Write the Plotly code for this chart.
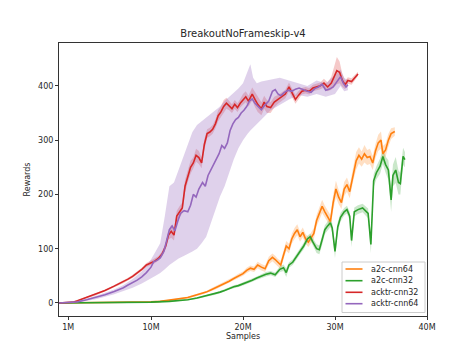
import plotly.graph_objects as go

# ---------------- data (x in millions of samples) ----------------
a2c64_x = [0, 4, 8, 10, 11, 12, 13, 14, 15, 15.5, 16, 16.5, 17, 17.5, 18, 18.5, 19, 19.5, 20, 20.4, 20.8,
           21.2, 21.6, 22, 22.4, 22.8, 23.2, 23.5, 23.8, 24.1, 24.4, 24.7, 25, 25.3, 25.6, 25.9, 26.2, 26.5,
           26.8, 27.1, 27.4, 27.7, 28, 28.3, 28.6, 28.9, 29.2, 29.5, 29.8, 30.1, 30.4, 30.7, 31, 31.3, 31.6,
           32, 32.3, 32.6, 32.9, 33.2, 33.5, 33.8, 34.1, 34.4, 34.7, 35, 35.2, 35.5, 35.8, 36.1, 36.5]
a2c64_y = [0, 0.3, 1, 2, 3, 5, 7, 10, 15, 17, 20, 24, 28, 31, 36, 40, 45, 50, 54, 60, 64,
           62, 70, 66, 63, 78, 84, 80, 74, 70, 88, 105, 100, 118, 128, 135, 122, 130,
           118, 112, 120, 128, 152, 165, 178, 168, 160, 150, 185, 210, 195, 185, 210, 218, 205,
           240, 262, 272, 265, 275, 268, 270, 258, 280, 295, 300, 275, 282, 300, 312, 316]
a2c64_sd = [0, 0.3, 0.5, 1, 1, 1, 1.5, 2, 2, 2, 2, 2.5, 3, 3, 3, 3, 3.5, 4, 4, 5, 5,
            5, 6, 6, 6, 7, 7, 7, 7, 8, 8, 9, 9, 9, 10, 10, 9, 9,
            9, 9, 10, 10, 10, 12, 12, 11, 11, 12, 14, 15, 13, 12, 13, 13, 12,
            14, 16, 15, 14, 16, 14, 14, 13, 13, 15, 16, 14, 12, 12, 10, 8]

a2c32_x = [0, 5, 10, 12, 13, 14, 15, 16, 17, 17.5, 18, 18.5, 19, 19.5, 20, 20.5, 21, 21.5, 22, 22.5, 23,
           23.5, 24, 24.4, 24.7, 25, 25.4, 25.8, 26.2, 26.6, 27, 27.3, 27.6, 28, 28.3, 28.6, 28.9, 29.2,
           29.5, 29.7, 30, 30.3, 30.6, 31, 31.3, 31.6, 31.8, 32.1, 32.5, 33, 33.3, 33.6, 33.9, 34.2, 34.5,
           34.9, 35.2, 35.5, 35.8, 36.1, 36.3, 36.6, 36.9, 37.1, 37.4, 37.6]
a2c32_y = [0, 0.2, 1.5, 3, 4, 6, 9, 13, 17, 20, 23, 27, 30, 32, 35, 38, 42, 46, 50, 53, 55,
           52, 62, 65, 56, 70, 75, 85, 95, 105, 118, 122, 112, 100, 98, 115, 135, 142,
           148, 138, 95, 140, 158, 168, 172, 160, 115, 168, 172, 175, 170, 165, 108, 225, 240,
           252, 270, 255, 245, 190, 235, 245, 222, 220, 270, 264]
a2c32_sd = [0, 0.2, 0.5, 1, 1, 1, 1.5, 1.5, 2, 2, 2, 2, 2.5, 2.5, 3, 3, 3, 3, 3.5, 4, 4,
            4, 5, 6, 8, 5, 5, 5, 5, 6, 6, 6, 7, 8, 8, 8, 8, 8,
            8, 9, 12, 9, 8, 7, 7, 8, 12, 8, 8, 8, 8, 9, 16, 12, 12,
            14, 14, 15, 18, 22, 20, 24, 22, 20, 16, 14]

acktr32_x = [0, 1, 1.5, 2, 3, 4, 5, 6, 7, 7.5, 8, 8.5, 9, 9.5, 10, 10.4, 10.8, 11.2, 11.6, 11.9, 12.2,
             12.5, 12.8, 13.1, 13.4, 13.7, 14, 14.3, 14.6, 14.9, 15.2, 15.5, 15.8, 16.1, 16.4, 16.7, 17,
             17.3, 17.6, 17.9, 18.2, 18.5, 18.8, 19.1, 19.4, 19.7, 20, 20.3, 20.6, 21, 21.3, 21.6, 22,
             22.3, 22.6, 23, 23.4, 23.8, 24.2, 24.6, 25, 25.3, 25.7, 26, 26.4, 26.8, 27.2, 27.6, 28,
             28.4, 28.8, 29.2, 29.6, 29.9, 30.2, 30.5, 30.8, 31.1, 31.4, 31.8, 32.1, 32.5]
acktr32_y = [0, 0.5, 1.5, 4, 10, 16, 23, 31, 39, 44, 49, 55, 62, 70, 74, 77, 82, 90, 105, 125, 132,
             125, 160, 168, 175, 215, 235, 250, 258, 272, 268, 258, 292, 312, 315, 320, 330,
             345, 352, 362, 368, 363, 358, 366, 360, 368, 375, 380, 372, 385, 375, 366, 358,
             370, 362, 360, 370, 375, 380, 385, 398, 388, 375, 382, 390, 392, 390, 396, 398,
             400, 405, 398, 405, 415, 428, 425, 410, 402, 410, 408, 415, 422]
acktr32_sd = [0, 0.3, 0.5, 1, 1.5, 2, 2, 2, 2.5, 2.5, 3, 3, 3, 3.5, 4, 4, 4, 5, 6, 8, 12,
              10, 10, 10, 10, 12, 12, 12, 10, 12, 12, 10, 10, 8, 8, 8, 8,
              10, 10, 12, 10, 8, 8, 8, 8, 8, 10, 10, 10, 12, 14, 14, 12,
              12, 12, 10, 10, 8, 8, 8, 8, 8, 8, 8, 6, 6, 6, 6, 6,
              6, 8, 8, 12, 18, 25, 20, 12, 8, 6, 6, 5, 4]

acktr64_x = [0, 1, 1.5, 2, 3, 4, 5, 6, 7, 7.5, 8, 8.5, 9, 9.5, 10, 10.3, 10.6, 11, 11.4, 11.7, 12,
             12.3, 12.6, 12.9, 13.2, 13.6, 14, 14.3, 14.6, 14.9, 15.2, 15.6, 15.9, 16.2, 16.5, 16.8,
             17.1, 17.4, 17.7, 18, 18.3, 18.6, 18.9, 19.2, 19.5, 19.8, 20.1, 20.4, 20.7, 21, 21.3,
             21.7, 22, 22.4, 22.8, 23.2, 23.5, 23.8, 24.1, 24.5, 24.9, 25.3, 25.7, 26.1, 26.5, 27,
             27.4, 27.8, 28.2, 28.6, 29, 29.4, 29.8, 30.2, 30.6, 30.9, 31.2, 31.4]
acktr64_y = [0, 0.5, 1, 2, 6, 10, 15, 21, 28, 33, 37, 42, 48, 56, 66, 76, 78, 83, 95, 115, 135,
             142, 133, 150, 165, 170, 168, 180, 200, 195, 210, 222, 215, 235, 245, 255,
             265, 275, 290, 285, 295, 318, 330, 338, 342, 350, 355, 362, 372, 376, 368,
             360, 356, 365, 372, 390, 393, 385, 382, 388, 392, 390, 394, 396, 393, 390,
             388, 395, 398, 403, 392, 394, 398, 408, 417, 405, 398, 402]

acktr64_band_x = [0, 2, 4, 6, 7, 8, 9, 10, 10.5, 11, 11.5, 12, 12.5, 13, 13.5, 14, 14.5, 15, 15.5, 16,
                  16.5, 17, 17.5, 18, 18.5, 19, 19.5, 20, 20.5, 20.8, 21.1, 21.5, 22, 23, 24, 25, 26, 27,
                  28, 29, 30, 30.6, 31, 31.4]
acktr64_band_lo = [0, 1, 7, 16, 22, 28, 36, 45, 50, 55, 62, 70, 76, 82, 86, 90, 95, 100, 110, 122,
                   145, 170, 196, 215, 240, 265, 285, 300, 312, 318, 322, 330, 338, 355, 365, 375, 383, 380,
                   385, 380, 385, 400, 390, 392]
acktr64_band_hi = [0, 3, 13, 25, 33, 44, 58, 80, 95, 110, 160, 215, 222, 245, 270, 295, 315, 328, 335, 342,
                   348, 355, 362, 372, 380, 388, 395, 405, 425, 440, 415, 405, 408, 412, 415, 410, 405, 400,
                   410, 405, 420, 430, 415, 410]

labels = ["a2c-cnn64", "a2c-cnn32", "acktr-cnn32", "acktr-cnn64"]
colors = ["#ff7f0e", "#2ca02c", "#d62728", "#9467bd"]
fills = ["rgba(255,127,14,0.25)", "rgba(44,160,44,0.25)", "rgba(214,39,40,0.25)", "rgba(148,103,189,0.3)"]

x_tickvals = [1, 10, 20, 30, 40]
x_ticktext = ["1M", "10M", "20M", "30M", "40M"]
y_tickvals = [0, 100, 200, 300, 400]

# ---------------- figure ----------------
W, H = 474, 355
ML, MR, MT, MB = 59, 47, 43, 39
PW, PH = W - ML - MR, H - MT - MB

def px_x(px):
    return (px - ML) / PW

def px_y(py):
    return (H - MB - py) / PH

fig = go.Figure()

series = [
    (a2c64_x, a2c64_y, [m - s for m, s in zip(a2c64_y, a2c64_sd)], [m + s for m, s in zip(a2c64_y, a2c64_sd)], a2c64_x),
    (a2c32_x, a2c32_y, [m - s for m, s in zip(a2c32_y, a2c32_sd)], [m + s for m, s in zip(a2c32_y, a2c32_sd)], a2c32_x),
    (acktr32_x, acktr32_y, [m - s for m, s in zip(acktr32_y, acktr32_sd)], [m + s for m, s in zip(acktr32_y, acktr32_sd)], acktr32_x),
    (acktr64_x, acktr64_y, acktr64_band_lo, acktr64_band_hi, acktr64_band_x),
]

for (x, y, lo, hi, bx), fc in zip(series, fills):
    fig.add_trace(go.Scatter(
        x=list(bx) + list(bx)[::-1], y=list(hi) + list(lo)[::-1],
        fill="toself", fillcolor=fc, line=dict(width=0), mode="lines",
        hoverinfo="skip", showlegend=False))

for (x, y, lo, hi, bx), c, name in zip(series, colors, labels):
    fig.add_trace(go.Scatter(x=x, y=y, mode="lines", name=name, showlegend=False,
                             line=dict(color=c, width=1.6)))

# compact matplotlib-style legend (box + line samples + labels)
shapes = [dict(type="rect", xref="paper", yref="paper",
               x0=px_x(342), x1=px_x(425), y0=px_y(312.5), y1=px_y(262),
               line=dict(color="#cccccc", width=1), fillcolor="rgba(255,255,255,0.8)", layer="above")]
annotations = []
entry_py = [269, 280.7, 292.3, 303.7]
for name, c, py in zip(labels, colors, entry_py):
    shapes.append(dict(type="line", xref="paper", yref="paper",
                       x0=px_x(345.5), x1=px_x(362.5), y0=px_y(py), y1=px_y(py),
                       line=dict(color=c, width=1.6), layer="above"))
    annotations.append(dict(text=name, xref="paper", yref="paper", x=px_x(369), y=px_y(py),
                            xanchor="left", yanchor="middle", showarrow=False,
                            font=dict(size=8, color="#262626")))

fig.update_layout(
    width=W, height=H,
    margin=dict(l=ML, r=MR, t=MT, b=MB),
    paper_bgcolor="white", plot_bgcolor="white",
    font=dict(family="DejaVu Sans", size=8, color="#262626"),
    title=dict(text="BreakoutNoFrameskip-v4", x=0.5, xref="paper", xanchor="center",
               y=1 - 33 / H, yref="container", yanchor="middle",
               font=dict(size=10, color="#262626")),
    showlegend=False,
    shapes=shapes,
    annotations=annotations,
)
fig.update_xaxes(range=[0, 40], tickvals=x_tickvals, ticktext=x_ticktext,
                 showgrid=False, zeroline=False, showline=True, mirror=True,
                 linecolor="#333333", linewidth=1, ticks="outside", ticklen=3,
                 tickcolor="#333333",
                 title=dict(text="Samples", font=dict(size=8), standoff=2))
fig.update_yaxes(range=[-24, 479], tickvals=y_tickvals,
                 showgrid=False, zeroline=False, showline=True, mirror=True,
                 linecolor="#333333", linewidth=1, ticks="outside", ticklen=3,
                 tickcolor="#333333",
                 title=dict(text="Rewards", font=dict(size=8), standoff=6))

fig.write_html("out.html")
